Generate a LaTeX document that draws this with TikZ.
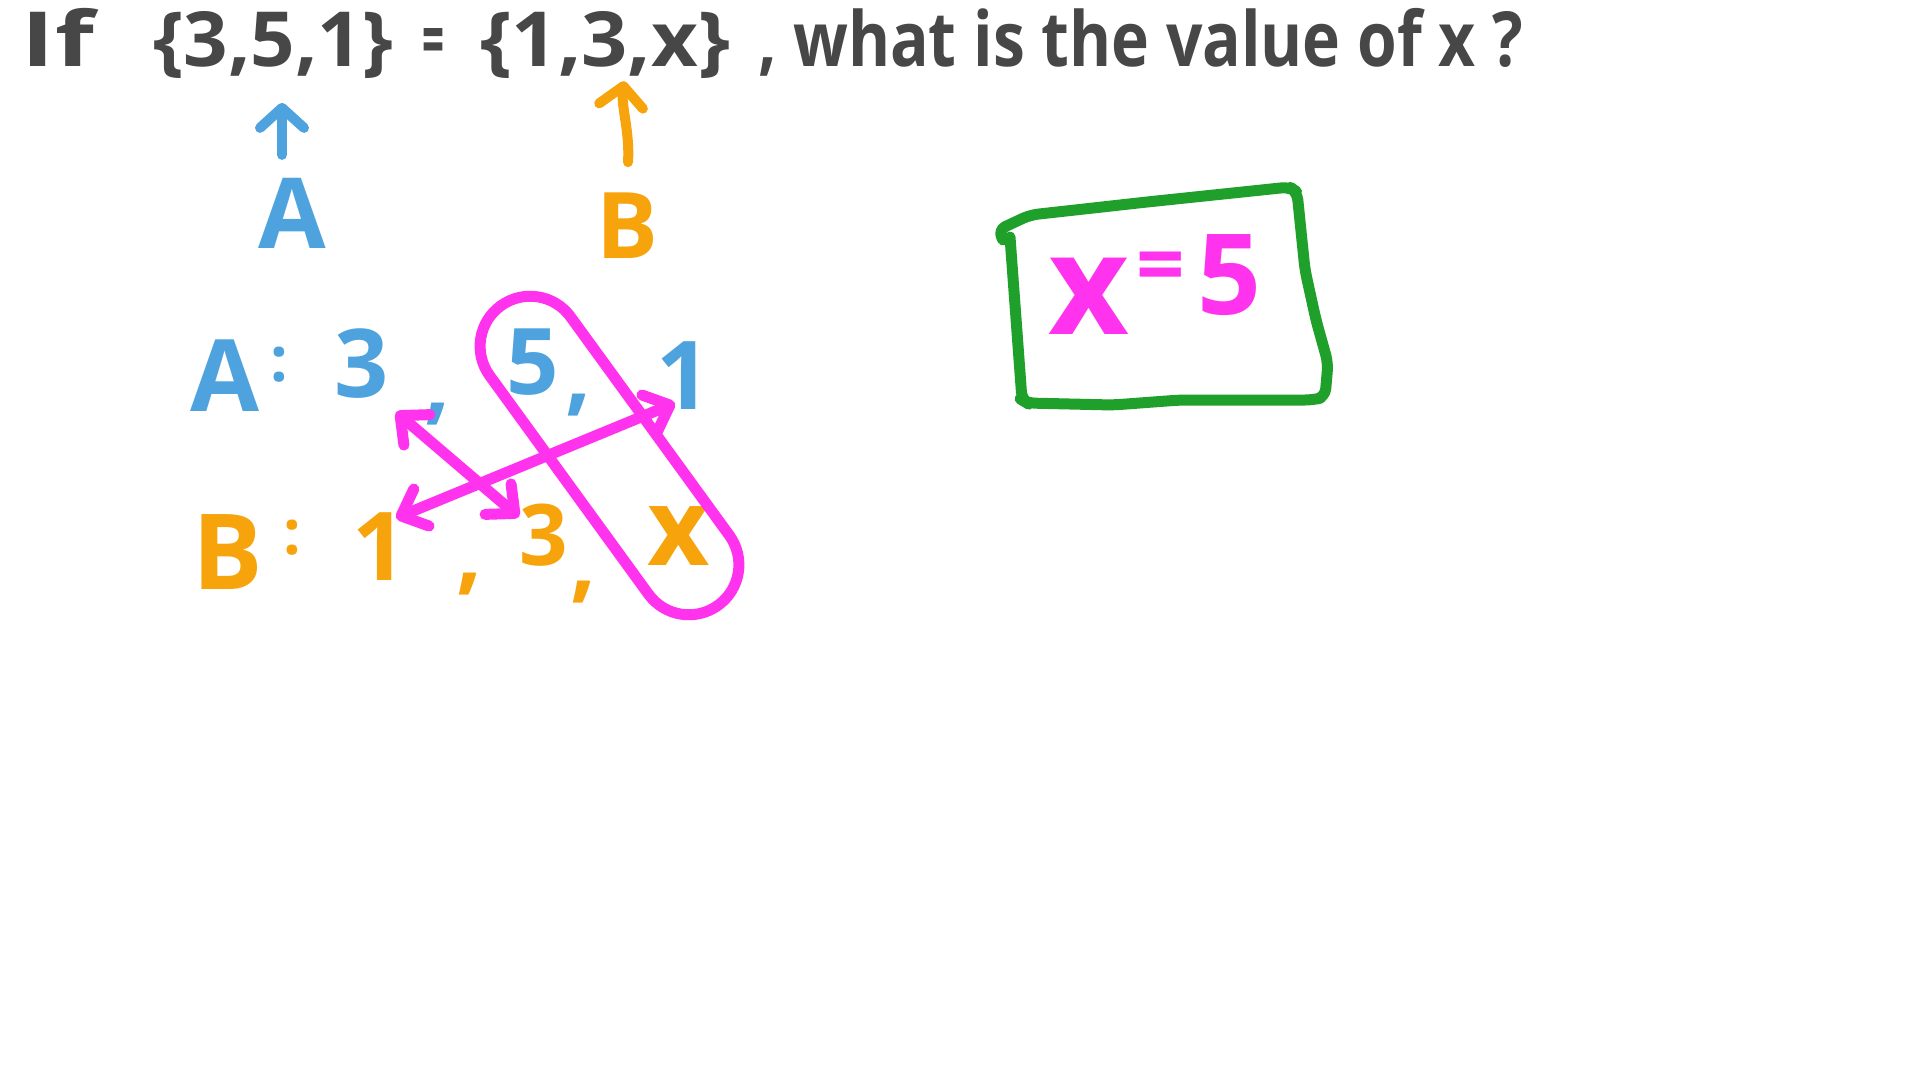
\documentclass[tikz,border=0pt]{standalone}
\usepackage{fontspec}
\setmainfont{Open Sans}
\usepackage{graphicx}
\usetikzlibrary{arrows.meta,calc}
\definecolor{ink}{HTML}{474747}
\definecolor{hblue}{HTML}{4EA3DE}
\definecolor{horange}{HTML}{F7A40C}
\definecolor{hmag}{HTML}{FF33EE}
\definecolor{hgreen}{HTML}{1FA02A}
\newcommand\fsz[1]{\fontsize{#1}{#1}\selectfont\bfseries}
\newcommand\wfit[2]{\resizebox{#1pt}{\height}{#2}}
\tikzset{
  hbarb/.tip={Straight Barb[length=20pt,width=44pt,round]},
  mbarb/.tip={Straight Barb[length=22pt,width=40pt,round]}
}
\begin{document}
\begin{tikzpicture}[x=1pt,y=-1pt,
  txt/.style={inner sep=0pt,outer sep=0pt},
  ttl/.style={txt,text=ink,anchor=base west,font=\fsz{76}},
  blu/.style={txt,text=hblue},
  orng/.style={txt,text=horange},
  mag/.style={txt,text=hmag},
  pen/.style={line width=11pt,line cap=round,line join=round}
]
\fill[white] (0,0) rectangle (1920,1080);
\useasboundingbox (0,0) rectangle (1920,1080);

% title
\node[ttl] (t1) at (22,66) {\wfit{72}{If}};
\node[ttl] (t2) at (153,66) {\wfit{240}{\{3,5,1\}}};
\node[ttl] (t3) at (422,66) {\wfit{22}{=}};
\node[ttl] (t4) at (480,66) {\wfit{250}{\{1,3,x\}}};
\node[ttl] (t5) at (758,66) {\wfit{765}{, what is the value of x ?}};

% labels A and B with arrows
\node[blu,font=\fsz{98}] (lA) at (292,213) {A};
\node[orng,font=\fsz{92}] (lB) at (627,226) {B};
\draw[pen,line width=10pt,hblue,-{hbarb}] (lA.north) ++(-10,-23) -- ++(0,-52);
\draw[pen,line width=10pt,horange,-{hbarb}] (lB.north) ++(1,-31) .. controls +(2,-30) and +(-3,25) .. ++(-4,-81);

% row A
\node[blu,font=\fsz{100}] (aA) at (225,376) {A};
\node[blu,font=\fsz{62}] (acol) at (279,365) {:};
\node[blu,font=\fsz{95}] (a3) at (362,364) {3};
\node[blu,font=\fsz{90}] (ac1) at (438,414) {,};
\node[blu,font=\fsz{92}] (a5) at (533,362) {5};
\node[blu,font=\fsz{90}] (ac2) at (579,405) {,};
\node[blu,font=\fsz{95}] (a1) at (684,376) {1};

% row B
\node[orng,font=\fsz{105}] (bB) at (228,552) {B};
\node[orng,font=\fsz{62}] (bcol) at (292,538) {:};
\node[orng,font=\fsz{95}] (b1) at (380,547) {1};
\node[orng,font=\fsz{90}] (bc1) at (470,584) {,};
\node[orng,font=\fsz{85}] (b3) at (544,535) {3};
\node[orng,font=\fsz{90}] (bc2) at (584,592) {,};
\node[orng,font=\fsz{108}] (bx) at (679,536) {x};

% magenta connectors
\draw[pen,hmag,{mbarb}-{mbarb}] ($(a3)+(34,48)$) -- ($(b3)+(-25,-18)$);
\draw[pen,hmag,{mbarb}-{mbarb}] ($(b1)+(16,-29)$) -- ($(a1)+(-9,27)$);

% loop around 5 and x
\draw[pen,hmag,shift={(609.5,455.5)},rotate=-54,rounded corners=49.9pt] (-185,-50) rectangle (185,50);

% answer box
\node[mag,font=\fsz{140}] (gx) at (1089,296) {x};
\node[mag,font=\fsz{85}] (geq) at (1161,273) {=};
\node[mag,font=\fsz{112}] (g5) at (1229,275) {5};
\draw[pen,hgreen,rounded corners=8pt] (1003,240) -- (998,230) -- (1030,215) -- (1147,202) -- (1290,187) -- (1297,192) -- (1305,270) -- (1316,320) -- (1328,363) -- (1325,397) -- (1313,400) -- (1180,400) -- (1113,405) -- (1027,403) -- (1022,400) -- (1010,237);
\end{tikzpicture}
\end{document}
